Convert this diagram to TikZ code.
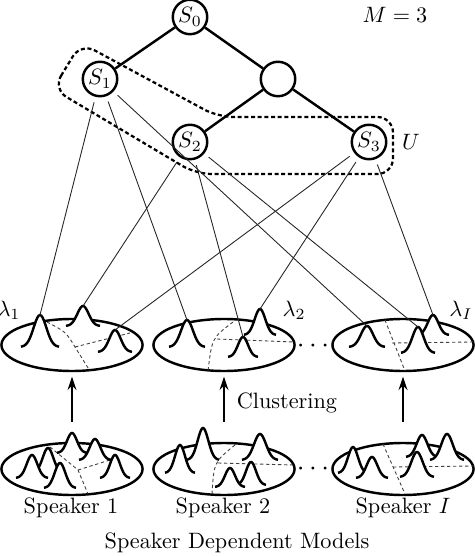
\documentclass[tikz,border=0pt]{standalone}
\usetikzlibrary{shapes.geometric,arrows.meta}
\newcommand{\bell}[5]{%
  \fill[white] plot[domain=-1:1,samples=31,smooth] ({#1+#4*\x},{#2-#3*exp(-4.5*\x*\x)}) -- cycle;
  \draw[line width=1.1pt] plot[domain=-1:1,samples=31,smooth] ({#1+#4*\x},{#2-#3*exp(-4.5*\x*\x)});
  \coordinate (#5) at (#1,#2-#3);}
\begin{document}
\begin{tikzpicture}[x=0.45pt,y=-0.45pt,
	state/.style={circle,draw,line width=1.1pt,minimum size=15.5pt,inner sep=0pt},
	model/.style={ellipse,draw,line width=1.1pt,minimum width=63.5pt,minimum height=23.4pt,inner sep=0pt},
	link/.style={line width=0.4pt,black!85,shorten <=2.5pt},
	part/.style={dash pattern=on 1.5pt off 1.2pt,line width=0.4pt,black!75}]
	\useasboundingbox (0,0) rectangle (474,556);
	\node [state] (s0) at (190,17) {$S_0$};
	\node [state] (s1) at (100,79) {$S_1$};
	\node [state] (n) at (278,79) {};
	\node [state] (s2) at (190,142) {$S_2$};
	\node [state] (s3) at (369,142) {$S_3$};
	\draw [line width=1.1pt] (s0) -- (s1) (s0) -- (n) (n) -- (s2) (n) -- (s3);
	\draw [dash pattern=on 1.8pt off 1.2pt,line width=1pt,rounded corners=7pt]
		(53,89) -- (81,43) -- (218,117) -- (393,117) -- (393,174) -- (196,174) -- cycle;
	\node at (395,15) {$M=3$};
	\node at (411,142) {$U$};

	\node [model] (m1) at (72,345) {};
	\node [model] (m2) at (224,345) {};
	\node [model] (m3) at (403,345) {};
	\node [model] (d1) at (72,469) {};
	\node [model] (d2) at (224,469) {};
	\node [model] (d3) at (403,469) {};

	\draw [part] (47,322) .. controls (66,332) .. (75,347) -- (90,371) (75,347) -- (130,333);
	\draw [part] (233,322) .. controls (212,338) .. (208,371) (217,339) -- (294,342);
	\draw [part] (385,320) -- (405,371) (392,343) -- (474,342);
	\draw [part] (50,447) -- (78,470) -- (88,494) (78,470) -- (110,460);
	\draw [part] (235,445) .. controls (214,462) .. (212,494) (218,463) -- (294,465);
	\draw [part] (383,444) -- (405,494) (393,467) -- (474,466);

	\bell{83}{326}{20}{17}{p12}
	\bell{40}{347}{32}{19}{p11}
	\bell{115}{352}{22}{17}{p13}
	\bell{260}{335}{26}{16}{p22}
	\bell{187}{347}{27}{18}{p21}
	\bell{243}{357}{20}{15}{p23}
	\bell{433}{335}{20}{16}{p32}
	\bell{367}{347}{21}{18}{p31}
	\bell{418}{353}{26}{17}{p33}

	\bell{72}{453}{20}{15}{q11}
	\bell{95}{460}{21}{16}{q12}
	\bell{48}{473}{25}{16}{q13}
	\bell{32}{478}{23}{16}{q14}
	\bell{115}{478}{23}{15}{q15}
	\bell{60}{488}{25}{16}{q16}
	\bell{203}{460}{32}{16}{q21}
	\bell{260}{460}{26}{18}{q22}
	\bell{180}{473}{28}{15}{q23}
	\bell{251}{485}{23}{15}{q24}
	\bell{230}{487}{19}{15}{q25}
	\bell{422}{457}{22}{16}{q31}
	\bell{447}{460}{26}{17}{q32}
	\bell{353}{473}{26}{15}{q33}
	\bell{417}{477}{25}{17}{q34}
	\bell{372}{478}{21}{16}{q35}

	\foreach \a/\b in {s1/p11,s1/p21,s1/p31,s2/p12,s2/p23,s2/p33,s3/p13,s3/p22,s3/p32}
		\draw [link] (\a) -- (\b);

	\node [inner sep=1pt] at (9,310) {$\lambda_1$};
	\node [inner sep=1pt] at (294,310) {$\lambda_2$};
	\node [inner sep=1pt] at (461,310) {$\lambda_I$};
	\node [scale=1.25,inner sep=0pt] at (313,346) {$\cdots$};
	\node [scale=1.25,inner sep=0pt] at (313,469) {$\cdots$};

	\foreach \i in {1,2,3}
		\draw [-{Stealth[length=6pt,width=4pt]},line width=1.1pt,shorten <=9pt,shorten >=2pt] (d\i) -- (m\i);
	\node [anchor=west] at (229,403) {Clustering};

	\node at (71,508) {Speaker 1};
	\node at (223,508) {Speaker 2};
	\node at (403,508) {Speaker $I$};
	\node at (237,543) {Speaker Dependent Models};
\end{tikzpicture}
\end{document}
